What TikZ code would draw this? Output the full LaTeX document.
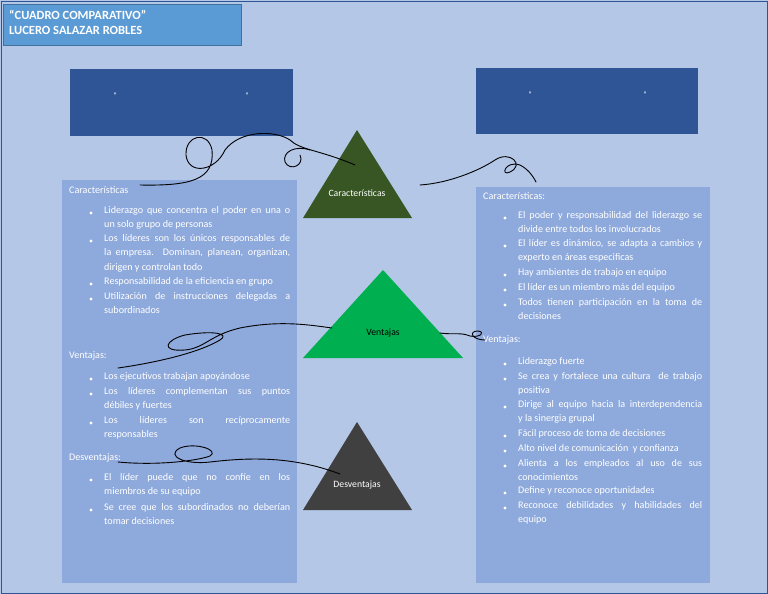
\documentclass[tikz,border=0pt]{standalone}
\usepackage{fontspec}
\setmainfont{Carlito}
\newcommand\nohy{\lefthyphenmin=62 \righthyphenmin=62 \hyphenpenalty=10000 \relax}
\begin{document}
\begin{tikzpicture}[x=1pt,y=-1pt,
 txt/.style={anchor=north west,inner sep=0pt,text=white,font=\fontsize{10.1}{14.6}\selectfont,text width=186pt,align=justify},
 lbl/.style={anchor=west,inner sep=0pt,text=white,font=\fontsize{10.1}{14.6}\selectfont},
 bul/.style={circle,fill=white,inner sep=0pt,minimum size=3.4pt},
 scrib/.style={draw=black,line width=0.9pt,line cap=round}]
\useasboundingbox (0,0) rectangle (768,594);
\fill[fill={rgb,255:red,180;green,199;blue,231}] (0,0) rectangle (768,594);
\draw[draw={rgb,255:red,47;green,85;blue,151},line width=0.8pt] (1,1) rectangle (767,593);
\node[draw={rgb,255:red,65;green,113;blue,156},fill={rgb,255:red,91;green,155;blue,213},minimum width=238pt,minimum height=41pt,anchor=north west,inner sep=0pt] (title) at (3,4) {};
\node[anchor=north west,text=white,font=\bfseries\fontsize{12.5}{15}\selectfont,align=left,inner sep=0pt] (tt) at (9,10) {“CUADRO COMPARATIVO”\\LUCERO SALAZAR ROBLES};
\node[fill={rgb,255:red,47;green,85;blue,151},minimum width=223pt,minimum height=67pt,anchor=north west,inner sep=0pt] (bl) at (70,69) {};
\node[fill={rgb,255:red,47;green,85;blue,151},minimum width=222pt,minimum height=66pt,anchor=north west,inner sep=0pt] (br) at (476,68) {};
\node[text=white,font=\fontsize{8}{8}\selectfont] (q1) at (115,96) {“};
\node[text=white,font=\fontsize{8}{8}\selectfont] (q2) at (247,96) {”};
\node[text=white,font=\fontsize{8}{8}\selectfont] (q3) at (530,95) {“};
\node[text=white,font=\fontsize{8}{8}\selectfont] (q4) at (645,95) {”};
\fill[fill={rgb,255:red,142;green,169;blue,219}] (62,180) rectangle (297,583);
\fill[fill={rgb,255:red,142;green,169;blue,219}] (476,187) rectangle (710,583);
% triangles
\fill[fill={rgb,255:red,55;green,86;blue,35}] (357,130) -- (412,218) -- (303,218) -- cycle;
\node[text=white,font=\fontsize{9.7}{10}\selectfont] (t1) at (357,193) {Características};
\fill[fill={rgb,255:red,0;green,176;blue,80}] (383,270) -- (463,358) -- (303,358) -- cycle;
\node[text=black,font=\fontsize{9.7}{10}\selectfont] (t2) at (383,333) {Ventajas};
\fill[fill={rgb,255:red,64;green,64;blue,64}] (357,422) -- (412,510) -- (303,510) -- cycle;
\node[text=white,font=\fontsize{9.7}{10}\selectfont] (t3) at (357,485) {Desventajas};
% left text
\node[lbl] (lc) at (69,190) {Características};
\foreach \y/\t in {213/{Liderazgo que concentra el poder en una o\linebreak un solo grupo de personas},
 241/{Los líderes son los únicos responsables de\linebreak la empresa. Dominan, planean, organizan,\linebreak dirigen y controlan todo},
 284/{Responsabilidad de la eficiencia en grupo},
 299/{Utilización de instrucciones delegadas a\linebreak subordinados},
 379/{Los ejecutivos trabajan apoyándose},
 394/{Los líderes complementan sus puntos\linebreak débiles y fuertes},
 423/{Los líderes son recíprocamente\linebreak responsables},
 480/{El líder puede que no confíe en los\linebreak miembros de su equipo},
 510/{Se cree que los subordinados no deberían\linebreak tomar decisiones}}
 {\node[bul] at (91,\y) {}; \node[txt] at (104,\y-7) {\nohy\t};}
\node[lbl] (lv) at (69,356) {Ventajas:};
\node[lbl] (ld) at (69,458) {Desventajas:};
% right text
\node[lbl] (rc) at (483,196) {Características:};
\node[lbl] (rv) at (483,340) {Ventajas:};
\foreach \y/\t in {218/{El poder y responsabilidad del liderazgo se\linebreak divide entre todos los involucrados},
 246/{El líder es dinámico, se adapta a cambios y\linebreak experto en áreas especificas},
 275/{Hay ambientes de trabajo en equipo},
 290/{El líder es un miembro más del equipo},
 305/{Todos tienen participación en la toma de\linebreak decisiones},
 364/{Liderazgo fuerte},
 379/{Se crea y fortalece una cultura\ \ de trabajo\linebreak positiva},
 407/{Dirige al equipo hacia la interdependencia\linebreak y la sinergia grupal},
 436/{Fácil proceso de toma de decisiones},
 451/{Alto nivel de comunicación\ \ y confianza},
 466/{Alienta a los empleados al uso de sus\linebreak conocimientos},
 493/{Define y reconoce oportunidades},
 508/{Reconoce debilidades y habilidades del\linebreak equipo}}
 {\node[bul] at (505,\y) {}; \node[txt,text width=184pt] at (518,\y-7) {\nohy\t};}
% scribbles
\draw[scrib] (140,185) .. controls (190,186) and (215,180) .. (212,150)
 .. controls (208,130) and (185,135) .. (186,155) .. controls (188,175) and (215,172) .. (225,150)
 .. controls (240,130) and (275,130) .. (290,140) .. controls (300,150) and (320,150) .. (355,165);
\draw[scrib] (310,150) .. controls (295,145) and (282,152) .. (285,162) .. controls (290,172) and (305,165) .. (300,155);
\draw[scrib] (420,185) .. controls (450,183) and (480,170) .. (495,160) .. controls (510,150) and (525,165) .. (510,172)
 .. controls (500,177) and (505,160) .. (520,165) .. controls (530,170) and (535,180) .. (536,182);
\draw[scrib] (118,368) .. controls (160,362) and (200,352) .. (220,340) .. controls (230,334) and (215,330) .. (185,335)
 .. controls (165,340) and (160,352) .. (185,350) .. controls (205,348) and (210,335) .. (240,328)
 .. controls (280,320) and (310,325) .. (332,328);
\draw[scrib] (440,333) .. controls (455,335) and (460,332) .. (470,336) .. controls (480,338) and (486,332) .. (478,331)
 .. controls (468,331) and (472,340) .. (485,340);
\draw[scrib] (118,462) .. controls (160,466) and (200,460) .. (210,456) .. controls (220,450) and (195,442) .. (180,448)
 .. controls (165,456) and (185,465) .. (210,462) .. controls (245,458) and (290,455) .. (340,474);
\end{tikzpicture}
\end{document}
